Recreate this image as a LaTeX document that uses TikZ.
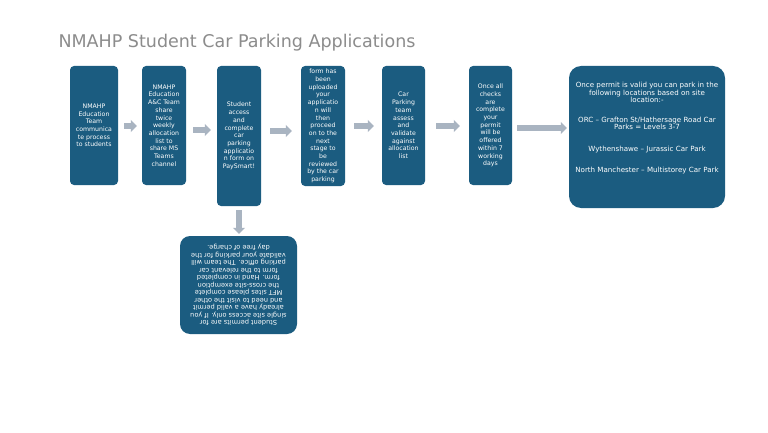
\documentclass[tikz,border=0pt]{standalone}
\usepackage{fontspec}
\setmainfont{DejaVu Sans}
\usetikzlibrary{arrows.meta}
\definecolor{boxc}{HTML}{1B5C80}
\definecolor{arrowc}{HTML}{A9B4C1}
\definecolor{titlec}{HTML}{8C8C8C}
\newcommand{\bt}{\fontsize{6.2}{7.7}\selectfont}
\tikzset{
  box/.style={fill=boxc, rounded corners=4pt, inner sep=0pt, text=white, align=center, font=\bt},
  arr/.style={draw=arrowc, line width=6pt, -{Triangle[length=6pt,width=12pt]}},
}
\begin{document}
\begin{tikzpicture}[x=1pt,y=-1pt]
\useasboundingbox (0,0) rectangle (768,433);
\fill[white] (0,0) rectangle (768,433);
\node[anchor=west, text=titlec, font=\fontsize{17.5}{20}\selectfont] (title) at (55,43) {NMAHP Student Car Parking Applications};

\node[box, minimum width=48, minimum height=119] (b1) at (94,125.5) {NMAHP\\Education\\Team\\communica\\te process\\to students};
\node[box, minimum width=44, minimum height=119] (b2) at (164,125.5) {NMAHP\\Education\\A\&C Team\\share\\twice\\weekly\\allocation\\list to\\share MS\\Teams\\channel};
\node[box, minimum width=44, minimum height=140] (b3) at (239,136) {Student\\access\\and\\complete\\car\\parking\\applicatio\\n form on\\PaySmart!};
\node[box, minimum width=44, minimum height=120] (b4) at (323,126) {form has\\been\\uploaded\\your\\applicatio\\n will\\then\\proceed\\on to the\\next\\stage to\\be\\reviewed\\by the car\\parking};
\node[box, minimum width=43, minimum height=119] (b5) at (403.5,125.5) {Car\\Parking\\team\\assess\\and\\validate\\against\\allocation\\list};
\node[box, minimum width=43, minimum height=119] (b6) at (490.5,125.5) {Once all\\checks\\are\\complete\\your\\permit\\will be\\offered\\within 7\\working\\days};
\node[box, rounded corners=12pt, minimum width=156, minimum height=142] (b7) at (647,137) {};
\node[anchor=north, align=center, text=white, font=\fontsize{7.1}{7.6}\selectfont, inner sep=0pt] (t7) at (647,82) {Once permit is valid you can park in the\\following locations based on site\\location:-\\[12pt]ORC – Grafton St/Hathersage Road Car\\Parks = Levels 3-7\\[13.5pt]Wythenshawe – Jurassic Car Park\\[14pt]North Manchester – Multistorey Car Park};
\node[box, rounded corners=10pt, minimum width=117, minimum height=98, rotate=180, font=\fontsize{6.6}{7.5}\selectfont] (b8) at (238.5,285) {Student permits are for\\single site access only. If you\\already have a valid permit\\and need to visit the other\\MFT sites please complete\\the cross-site exemption\\form. Hand in completed\\form to the relevant car\\parking office. The team will\\validate your parking for the\\day free of charge.};

\draw[arr, shorten <=6pt, shorten >=5pt] (b1.east |- 0,126) -- (b2.west |- 0,126);
\draw[arr, shorten <=7pt, shorten >=6pt] (b2.east |- 0,130) -- (b3.west |- 0,130);
\draw[arr, shorten <=9pt, shorten >=9pt] (b3.east |- 0,131) -- (b4.west |- 0,131);
\draw[arr, shorten <=9pt, shorten >=8pt] (b4.east |- 0,126) -- (b5.west |- 0,126);
\draw[arr, shorten <=11pt, shorten >=9pt] (b5.east |- 0,126) -- (b6.west |- 0,126);
\draw[arr, shorten <=5pt, shorten >=2pt] (b6.east |- 0,128) -- (b7.west |- 0,128);
\draw[arr, shorten <=4pt, shorten >=2pt] (b3.south) -- (b8.south -| b3.south);
\end{tikzpicture}
\end{document}
